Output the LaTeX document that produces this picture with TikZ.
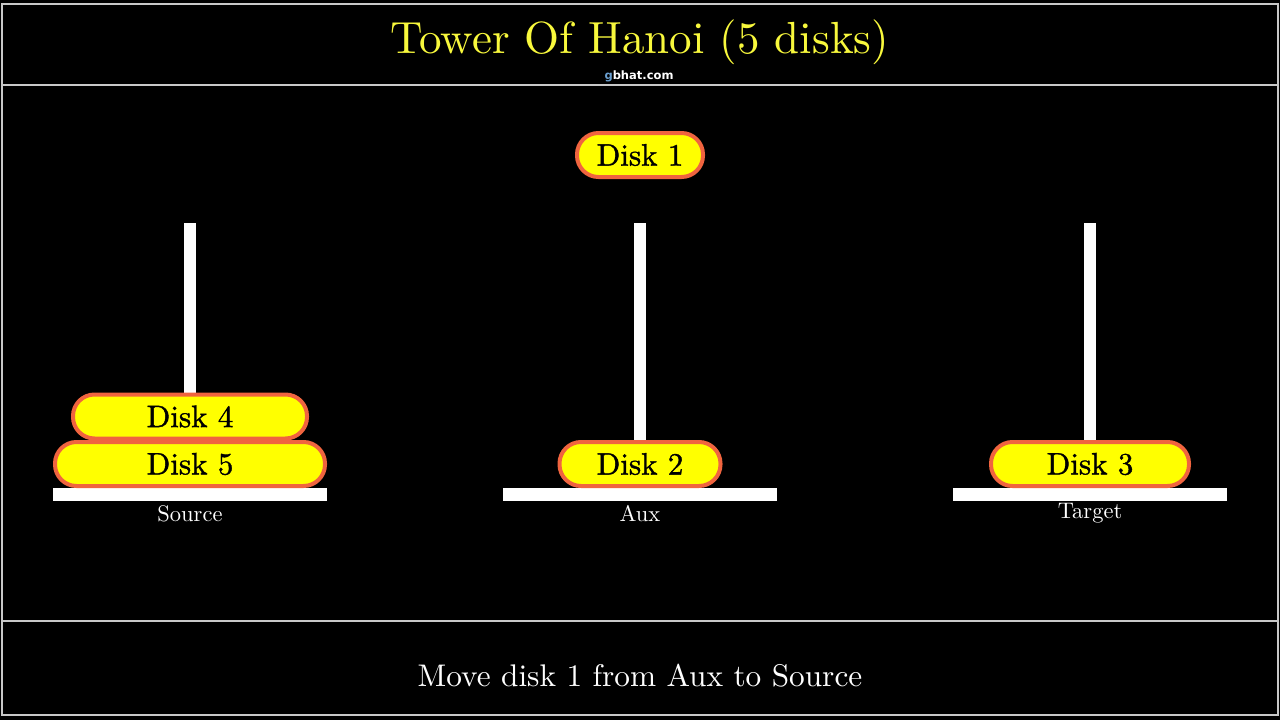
\documentclass[tikz,border=0pt]{standalone}
\usepackage{graphicx}
\usepackage{fontspec}
\newfontfamily\wmfont{DejaVu Sans}
\newfontfamily\diskfont{lmroman10-regular}[Extension=.otf, FakeBold=1.2]
\definecolor{framegrey}{HTML}{C8C8C8}
\definecolor{titleyellow}{HTML}{F8F83C}
\definecolor{diskred}{HTML}{F0643F}
\definecolor{diskyellow}{HTML}{FFFF00}
\definecolor{wmblue}{HTML}{6A9FD0}
\tikzset{
  framelinestyle/.style={draw=framegrey, line width=1.5pt},
  diskbox/.style={draw=diskred, fill=diskyellow, line width=4pt, rounded corners=21.5pt,
    minimum height=44pt, inner sep=0pt, text=black, font=\diskfont},
  pegpart/.style={fill=white, draw=none},
  peglabel/.style={text=white, inner sep=0pt},
}
\begin{document}
\begin{tikzpicture}[x=1pt,y=-1pt]
\fill[black] (0,0) rectangle (1280,720);
\useasboundingbox (0,0) rectangle (1280,720);
% frame
\draw[framelinestyle] (2,4) rectangle (1278,715);
\draw[framelinestyle] (2,85) -- (1278,85);
\draw[framelinestyle] (2,621) -- (1278,621);
% title
\node[text=titleyellow, inner sep=0pt] (title) at (640,42) {\scalebox{4.5}{Tower Of Hanoi (5 disks)}};
\node[inner sep=0pt] (wm) at (639,76) {\wmfont\bfseries\fontsize{11.5}{13}\selectfont\textcolor{wmblue}{g}\textcolor{white}{bhat.com}};
% pegs
\foreach \x/\nm in {190/src,640/aux,1090/tgt}{
  \fill[pegpart] (\x-6,223) rectangle (\x+6,488);
  \fill[pegpart] (\x-137,488) rectangle (\x+137,501);
}
\node[peglabel] (lsrc) at (190,513.5) {\scalebox{2.25}{Source}};
\node[peglabel] (laux) at (640,514) {\scalebox{2.25}{Aux}};
\node[peglabel] (ltgt) at (1090,513) {\scalebox{2.25}{Target}};
% disks
\node[diskbox, minimum width=126pt] (d1) at (640,155) {\scalebox{3.1}{Disk 1}};
\node[diskbox, minimum width=234pt] (d4) at (190,416.5) {\scalebox{3.1}{Disk 4}};
\node[diskbox, minimum width=270pt] (d5) at (190,464) {\scalebox{3.1}{Disk 5}};
\node[diskbox, minimum width=161pt] (d2) at (640,464) {\scalebox{3.1}{Disk 2}};
\node[diskbox, minimum width=198pt] (d3) at (1090,464) {\scalebox{3.1}{Disk 3}};
% bottom message
\node[text=white, inner sep=0pt] (msg) at (640,676) {\scalebox{3.13}{Move disk 1 from Aux to Source}};
\end{tikzpicture}
\end{document}
